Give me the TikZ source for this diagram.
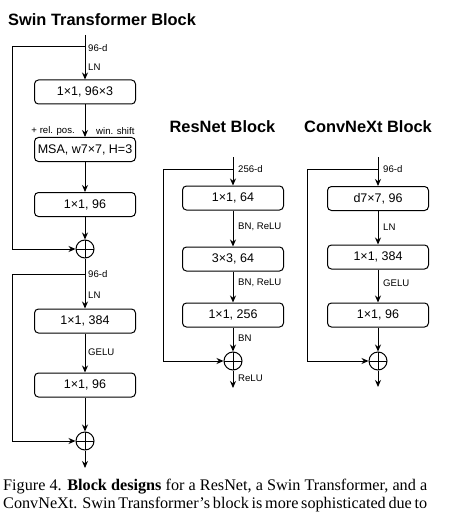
\documentclass[tikz,border=0pt]{standalone}
\usepackage{fontspec}
\setmainfont{Liberation Serif}
\newfontfamily\arial{Liberation Sans}
\usetikzlibrary{arrows.meta}

\tikzstyle{block} = [draw,rounded corners=4pt,line width=1pt,minimum width=101pt,minimum height=24pt,inner sep=0pt,font=\arial\fontsize{12.5}{14}\selectfont]
\tikzstyle{plus} = [draw,circle,line width=1pt,minimum size=18pt,inner sep=0pt,path picture={\draw[line width=0.8pt] (path picture bounding box.north) -- (path picture bounding box.south) (path picture bounding box.west) -- (path picture bounding box.east);}]
\tikzstyle{lbl} = [anchor=west,inner sep=0pt,font=\arial\fontsize{9.6}{11}\selectfont]
\tikzstyle{title} = [inner sep=0pt,font=\arial\bfseries\fontsize{16.4}{19}\selectfont]
\tikzstyle{arrow} = [line width=1pt,-{Stealth[length=7pt,width=6pt]}]
\tikzstyle{caption} = [anchor=base west,inner sep=0pt,font=\fontsize{16.2}{18}\selectfont]

\begin{document}
\begin{tikzpicture}[x=1pt,y=-1pt]
	\useasboundingbox (0,0) rectangle (474,513);

	\node[title,anchor=west] (t1) at (8,20) {Swin Transformer Block};
	\node[title] (t2) at (222.5,127) {ResNet Block};
	\node[title] (t3) at (368,127) {ConvNeXt Block};

	\coordinate (s0) at (85,35);
	\coordinate (sb1) at (85,47);
	\coordinate (sk1) at (12,47);
	\coordinate (sk2) at (12,249);
	\node[block] (s1) at (85,92) {1×1, 96×3};
	\node[block] (s2) at (85,149.5) {MSA, w7×7, H=3};
	\node[block] (s3) at (85,204.5) {1×1, 96};
	\node[plus] (c1) at (85,249) {};
	\coordinate (sb2) at (85,274);
	\coordinate (sk3) at (12,274);
	\coordinate (sk4) at (12,441);
	\node[block] (s4) at (85,321) {1×1, 384};
	\node[block] (s5) at (85,385) {1×1, 96};
	\node[plus] (c2) at (85,441) {};
	\coordinate (se) at (85,468);

	\node[lbl] (sl1) at (88,48) {96-d};
	\node[lbl] (sl2) at (88,67) {LN};
	\node[lbl,anchor=east] (sl3) at (75,131) {+ rel. pos.};
	\node[lbl] (sl4) at (96,131) {win. shift};
	\node[lbl] (sl5) at (88,274) {96-d};
	\node[lbl] (sl6) at (88,295) {LN};
	\node[lbl] (sl7) at (88,352) {GELU};

	\draw[arrow] (s0) -- (s1);
	\draw[arrow] (s1) -- (s2);
	\draw[arrow] (s2) -- (s3);
	\draw[arrow] (s3) -- (c1);
	\draw[arrow] (sb1) -- (sk1) -- (sk2) -- (c1);
	\draw[arrow] (c1) -- (s4);
	\draw[arrow] (s4) -- (s5);
	\draw[arrow] (s5) -- (c2);
	\draw[arrow] (sb2) -- (sk3) -- (sk4) -- (c2);
	\draw[arrow] (c2) -- (se);

	\coordinate (r0) at (233,157);
	\coordinate (rb) at (233,169);
	\coordinate (rk1) at (163,169);
	\coordinate (rk2) at (163,361);
	\node[block] (r1) at (233,198) {1×1, 64};
	\node[block] (r2) at (233,259) {3×3, 64};
	\node[block] (r3) at (233,315) {1×1, 256};
	\node[plus] (c3) at (233,361) {};
	\coordinate (re) at (233,388);

	\node[lbl] (rl1) at (238,169) {256-d};
	\node[lbl] (rl2) at (238,227) {BN, ReLU};
	\node[lbl] (rl3) at (238,283) {BN, ReLU};
	\node[lbl] (rl4) at (238,338) {BN};
	\node[lbl] (rl5) at (238,378) {ReLU};

	\draw[arrow] (r0) -- (r1);
	\draw[arrow] (r1) -- (r2);
	\draw[arrow] (r2) -- (r3);
	\draw[arrow] (r3) -- (c3);
	\draw[arrow] (rb) -- (rk1) -- (rk2) -- (c3);
	\draw[arrow] (c3) -- (re);

	\coordinate (v0) at (378,157);
	\coordinate (vb) at (378,169);
	\coordinate (vk1) at (307,169);
	\coordinate (vk2) at (307,361);
	\node[block] (v1) at (378,198.5) {d7×7, 96};
	\node[block] (v2) at (378,257) {1×1, 384};
	\node[block] (v3) at (378,315) {1×1, 96};
	\node[plus] (c4) at (378,361) {};
	\coordinate (ve) at (378,387);

	\node[lbl] (vl1) at (383,169) {96-d};
	\node[lbl] (vl2) at (383,227) {LN};
	\node[lbl] (vl3) at (383,283) {GELU};

	\draw[arrow] (v0) -- (v1);
	\draw[arrow] (v1) -- (v2);
	\draw[arrow] (v2) -- (v3);
	\draw[arrow] (v3) -- (c4);
	\draw[arrow] (vb) -- (vk1) -- (vk2) -- (c4);
	\draw[arrow] (c4) -- (ve);

	\node[caption] (cap1) at (3,490) {\makebox[424pt][s]{Figure 4. \textbf{Block designs} for a ResNet, a Swin Transformer, and a}};
	\node[caption] (cap2) at (3,508) {\makebox[424pt][s]{ConvNeXt. Swin Transformer’s block is more sophisticated due to}};
\end{tikzpicture}
\end{document}
